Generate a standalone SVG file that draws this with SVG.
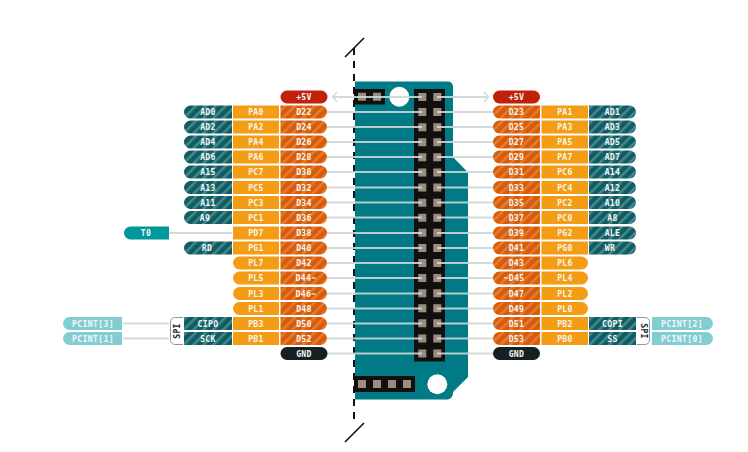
<svg xmlns="http://www.w3.org/2000/svg" width="748" height="452" viewBox="0 0 748 452">
<style>
text{font-family:"DejaVu Sans Mono","Liberation Mono",monospace;font-weight:700;font-size:8.200px;letter-spacing:.3px;text-anchor:middle;fill:#f4f6f6}
.d{fill:url(#sd)}.a{fill:url(#sa)}.p{fill:#f49c13}.teal{fill:#00979d}.pc{fill:#81cdd1}.red{fill:#c1200b}.blk{fill:#152022}
.w{stroke:#cdd6d6;stroke-width:2;fill:none;opacity:.9}
.ch{stroke:#cdd6d6;stroke-width:1.2;fill:none}
.br{fill:#fff;stroke:#8c9a9c;stroke-width:1}
.hd{fill:#12100e}
.pin{stroke:#9c8c7d;stroke-width:8;fill:none}
</style>
<defs>
<pattern id="sd" width="7" height="7" patternUnits="userSpaceOnUse" patternTransform="rotate(45)"><rect width="7" height="7" fill="#d95c04"/><rect width="2.500" height="7" fill="#e37b3a"/></pattern>
<pattern id="sa" width="7" height="7" patternUnits="userSpaceOnUse" patternTransform="rotate(45)"><rect width="7" height="7" fill="#0d5d63"/><rect width="2.500" height="7" fill="#46888c"/></pattern>
<path id="dl" d="M280.500-6.500H320.500a6.500 6.500 0 0 1 0 13H280.500z"/>
<path id="pl" d="M233-6.500H279V6.500H233z"/>
<path id="al" d="M232-6.500H190.500a6.500 6.500 0 0 0 0 13H232z"/>
<path id="pr" d="M279-6.500H239.500a6.500 6.500 0 0 0 0 13H279z"/>
<path id="dr" d="M540-6.500H499.500a6.500 6.500 0 0 0 0 13H540z"/>
<path id="qr" d="M541.500-6.500H588V6.500H541.500z"/>
<path id="ar" d="M589-6.500H629.500a6.500 6.500 0 0 1 0 13H589z"/>
<path id="qrr" d="M541.500-6.500H581.500a6.500 6.500 0 0 1 0 13H541.500z"/>
</defs>
<g id="board">
<path d="M355 81.500H448a5 5 0 0 1 5 5V157L468 172.500V377L453 392a7.500 7.500 0 0 1-5 7.500H355z" fill="#007a84"/>
<rect class="hd" x="414" y="89" width="31" height="272.500"/>
<rect class="hd" x="354" y="89" width="31" height="15.500"/>
<rect class="hd" x="354" y="376" width="61" height="16"/>
<path class="pin" stroke-dasharray="8 7.090" d="M422.300 93V358M437.300 93V358"/>
<path class="pin" stroke-dasharray="8 7" d="M358 96.800H381M358 384H411"/>
<circle cx="399.300" cy="96.700" r="10" fill="#fff"/>
<circle cx="437.300" cy="384.300" r="10" fill="#fff"/>
<path d="M354 48V422" stroke="#111" stroke-width="2" stroke-dasharray="7 6" fill="none"/>
<path d="M345 57L364 38M345 442L364 423" stroke="#111" stroke-width="1.600" fill="none"/>
</g>
<g id="connectors">
<path class="w" d="M333 97H422M327 112H422M327 127H422M327 142H422M327 157H422M327 172H422M327 187.500H422M327 202.500H422M327 217.500H422M327 248H422M327 233H422M327 263H422M327 278H422M327 293.500H422M327 308.500H422M327 323.500H422M327 338.500H422M327 353.500H422"/>
<path class="w" d="M437 97H487M437 112H493M437 127H493M437 142H493M437 157H493M437 172H493M437 187.500H493M437 202.500H493M437 217.500H493M437 233H493M437 248H493M437 263H493M437 278H493M437 293.500H493M437 308.500H493M437 323.500H493M437 338.500H493M437 353.500H493"/>
<path class="w" d="M169 233H232M123 323.500H169M123 338.500H169"/>
<path class="ch" d="M337 92L332.500 97L337 102M484 92L488.500 97L484 102"/>
</g>
<g id="L5V" transform="translate(0,97)"><rect class="red" x="280.500" y="-6.500" width="47" height="13" rx="6.500"/><text x="304" y="3">+5V</text></g>
<g id="R5V" transform="translate(0,97)"><rect class="red" x="493" y="-6.500" width="47" height="13" rx="6.500"/><text x="516.500" y="3">+5V</text></g>
<g id="D22" transform="translate(0,112)"><use href="#al" class="a"/><use href="#pl" class="p"/><use href="#dl" class="d"/><text x="208" y="3">AD0</text><text x="256" y="3">PA0</text><text x="304" y="3">D22</text></g>
<g id="D24" transform="translate(0,127)"><use href="#al" class="a"/><use href="#pl" class="p"/><use href="#dl" class="d"/><text x="208" y="3">AD2</text><text x="256" y="3">PA2</text><text x="304" y="3">D24</text></g>
<g id="D26" transform="translate(0,142)"><use href="#al" class="a"/><use href="#pl" class="p"/><use href="#dl" class="d"/><text x="208" y="3">AD4</text><text x="256" y="3">PA4</text><text x="304" y="3">D26</text></g>
<g id="D28" transform="translate(0,157)"><use href="#al" class="a"/><use href="#pl" class="p"/><use href="#dl" class="d"/><text x="208" y="3">AD6</text><text x="256" y="3">PA6</text><text x="304" y="3">D28</text></g>
<g id="D30" transform="translate(0,172)"><use href="#al" class="a"/><use href="#pl" class="p"/><use href="#dl" class="d"/><text x="208" y="3">A15</text><text x="256" y="3">PC7</text><text x="304" y="3">D30</text></g>
<g id="D32" transform="translate(0,187.500)"><use href="#al" class="a"/><use href="#pl" class="p"/><use href="#dl" class="d"/><text x="208" y="3">A13</text><text x="256" y="3">PC5</text><text x="304" y="3">D32</text></g>
<g id="D34" transform="translate(0,202.500)"><use href="#al" class="a"/><use href="#pl" class="p"/><use href="#dl" class="d"/><text x="208" y="3">A11</text><text x="256" y="3">PC3</text><text x="304" y="3">D34</text></g>
<g id="D36" transform="translate(0,217.500)"><use href="#al" class="a"/><use href="#pl" class="p"/><use href="#dl" class="d"/><text x="205" y="3">A9</text><text x="256" y="3">PC1</text><text x="304" y="3">D36</text></g>
<g id="D38" transform="translate(0,233)"><path class="teal" d="M169-6.500H130.500a6.500 6.500 0 0 0 0 13H169z"/><use href="#pl" class="p"/><use href="#dl" class="d"/><text x="146" y="3">T0</text><text x="256" y="3">PD7</text><text x="304" y="3">D38</text></g>
<g id="D40" transform="translate(0,248)"><use href="#al" class="a"/><use href="#pl" class="p"/><use href="#dl" class="d"/><text x="207" y="3">RD</text><text x="256" y="3">PG1</text><text x="304" y="3">D40</text></g>
<g id="D42" transform="translate(0,263)"><use href="#pr" class="p"/><use href="#dl" class="d"/><text x="256" y="3">PL7</text><text x="304" y="3">D42</text></g>
<g id="D44" transform="translate(0,278)"><use href="#pr" class="p"/><use href="#dl" class="d"/><text x="256" y="3">PL5</text><text x="306" y="3">D44~</text></g>
<g id="D46" transform="translate(0,293.500)"><use href="#pr" class="p"/><use href="#dl" class="d"/><text x="256" y="3">PL3</text><text x="306" y="3">D46~</text></g>
<g id="D48" transform="translate(0,308.500)"><use href="#pr" class="p"/><use href="#dl" class="d"/><text x="256" y="3">PL1</text><text x="304" y="3">D48</text></g>
<g id="D50" transform="translate(0,323.500)"><rect class="a" x="184" y="-6.500" width="48" height="13"/><use href="#pl" class="p"/><use href="#dl" class="d"/><path class="pc" d="M122-6.500H69.500a6.500 6.500 0 0 0 0 13H122z"/><text x="93" y="3">PCINT[3]</text><text x="208" y="3">CIPO</text><text x="256" y="3">PB3</text><text x="304" y="3">D50</text></g>
<g id="D52" transform="translate(0,338.500)"><rect class="a" x="184" y="-6.500" width="48" height="13"/><use href="#pl" class="p"/><use href="#dl" class="d"/><path class="pc" d="M122-6.500H69.500a6.500 6.500 0 0 0 0 13H122z"/><text x="93" y="3">PCINT[1]</text><text x="208" y="3">SCK</text><text x="256" y="3">PB1</text><text x="304" y="3">D52</text></g>
<g id="LGND" transform="translate(0,353.500)"><rect class="blk" x="280.500" y="-6.500" width="47" height="13" rx="6.500"/><text x="304" y="3">GND</text></g>
<g id="LSPI"><path class="br" d="M183 317.500H175a4.500 4.500 0 0 0-4.500 4.500V340a4.500 4.500 0 0 0 4.500 4.500H183"/><text transform="translate(179.500,331) rotate(-90)" style="fill:#152022">SPI</text></g>
<g id="D23" transform="translate(0,112)"><use href="#dr" class="d"/><use href="#qr" class="p"/><use href="#ar" class="a"/><text x="516.500" y="3">D23</text><text x="565" y="3">PA1</text><text x="612.500" y="3">AD1</text></g>
<g id="D25" transform="translate(0,127)"><use href="#dr" class="d"/><use href="#qr" class="p"/><use href="#ar" class="a"/><text x="516.500" y="3">D25</text><text x="565" y="3">PA3</text><text x="612.500" y="3">AD3</text></g>
<g id="D27" transform="translate(0,142)"><use href="#dr" class="d"/><use href="#qr" class="p"/><use href="#ar" class="a"/><text x="516.500" y="3">D27</text><text x="565" y="3">PA5</text><text x="612.500" y="3">AD5</text></g>
<g id="D29" transform="translate(0,157)"><use href="#dr" class="d"/><use href="#qr" class="p"/><use href="#ar" class="a"/><text x="516.500" y="3">D29</text><text x="565" y="3">PA7</text><text x="612.500" y="3">AD7</text></g>
<g id="D31" transform="translate(0,172)"><use href="#dr" class="d"/><use href="#qr" class="p"/><use href="#ar" class="a"/><text x="516.500" y="3">D31</text><text x="565" y="3">PC6</text><text x="612.500" y="3">A14</text></g>
<g id="D33" transform="translate(0,187.500)"><use href="#dr" class="d"/><use href="#qr" class="p"/><use href="#ar" class="a"/><text x="516.500" y="3">D33</text><text x="565" y="3">PC4</text><text x="612.500" y="3">A12</text></g>
<g id="D35" transform="translate(0,202.500)"><use href="#dr" class="d"/><use href="#qr" class="p"/><use href="#ar" class="a"/><text x="516.500" y="3">D35</text><text x="565" y="3">PC2</text><text x="612.500" y="3">A10</text></g>
<g id="D37" transform="translate(0,217.500)"><use href="#dr" class="d"/><use href="#qr" class="p"/><use href="#ar" class="a"/><text x="516.500" y="3">D37</text><text x="565" y="3">PC0</text><text x="612.500" y="3">A8</text></g>
<g id="D39" transform="translate(0,233)"><use href="#dr" class="d"/><use href="#qr" class="p"/><use href="#ar" class="a"/><text x="516.500" y="3">D39</text><text x="565" y="3">PG2</text><text x="612.500" y="3">ALE</text></g>
<g id="D41" transform="translate(0,248)"><use href="#dr" class="d"/><use href="#qr" class="p"/><use href="#ar" class="a"/><text x="516.500" y="3">D41</text><text x="565" y="3">PG0</text><text x="610" y="3">WR</text></g>
<g id="D43" transform="translate(0,263)"><use href="#dr" class="d"/><use href="#qrr" class="p"/><text x="516.500" y="3">D43</text><text x="565" y="3">PL6</text></g>
<g id="D45" transform="translate(0,278)"><use href="#dr" class="d"/><use href="#qrr" class="p"/><text x="514" y="3">~D45</text><text x="565" y="3">PL4</text></g>
<g id="D47" transform="translate(0,293.500)"><use href="#dr" class="d"/><use href="#qrr" class="p"/><text x="516.500" y="3">D47</text><text x="565" y="3">PL2</text></g>
<g id="D49" transform="translate(0,308.500)"><use href="#dr" class="d"/><use href="#qrr" class="p"/><text x="516.500" y="3">D49</text><text x="565" y="3">PL0</text></g>
<g id="D51" transform="translate(0,323.500)"><use href="#dr" class="d"/><use href="#qr" class="p"/><rect class="a" x="589" y="-6.500" width="47" height="13"/><path class="pc" d="M652-6.500H706.500a6.500 6.500 0 0 1 0 13H652z"/><text x="516.500" y="3">D51</text><text x="565" y="3">PB2</text><text x="612.500" y="3">COPI</text><text x="682" y="3">PCINT[2]</text></g>
<g id="D53" transform="translate(0,338.500)"><use href="#dr" class="d"/><use href="#qr" class="p"/><rect class="a" x="589" y="-6.500" width="47" height="13"/><path class="pc" d="M652-6.500H706.500a6.500 6.500 0 0 1 0 13H652z"/><text x="516.500" y="3">D53</text><text x="565" y="3">PB0</text><text x="612.500" y="3">SS</text><text x="682" y="3">PCINT[0]</text></g>
<g id="RGND" transform="translate(0,353.500)"><rect class="blk" x="493" y="-6.500" width="47" height="13" rx="6.500"/><text x="516.500" y="3">GND</text></g>
<g id="RSPI"><path class="br" d="M637 317.500H645a4.500 4.500 0 0 1 4.500 4.500V340a4.500 4.500 0 0 1-4.500 4.500H637"/><text transform="translate(641,331) rotate(90)" style="fill:#152022">SPI</text></g>
</svg>
